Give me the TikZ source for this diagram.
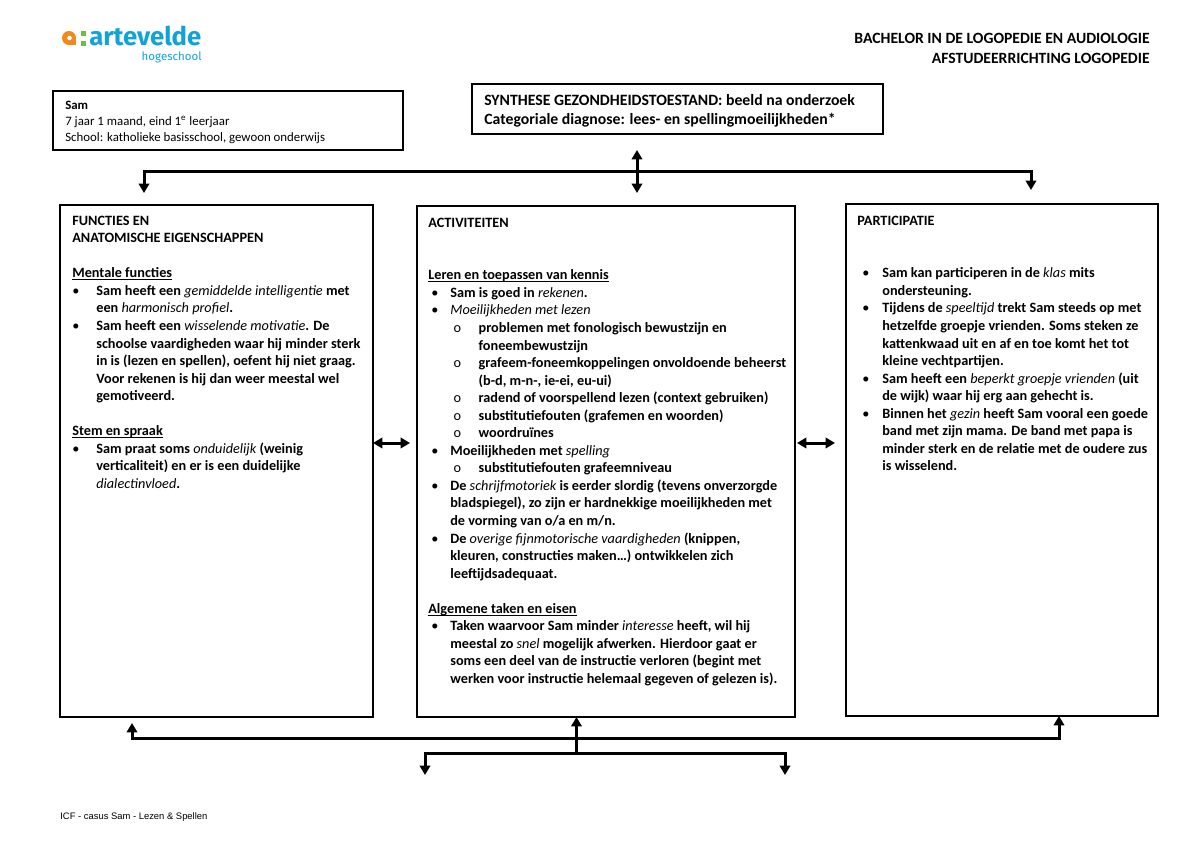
\documentclass[tikz,border=0pt]{standalone}
\usepackage{fontspec}
\setmainfont{Carlito}
\newfontfamily\arialf{Liberation Sans}
\newfontfamily\logof{Fira Sans}
\usetikzlibrary{arrows.meta}
\definecolor{logoblue}{HTML}{0FA3D8}
\definecolor{logoorange}{HTML}{F08A1D}
\definecolor{logogreen}{HTML}{6DBE45}
\newcommand{\ital}[1]{{\normalfont\itshape #1}}
\newcommand{\ulin}[1]{\leavevmode\setbox0=\hbox{#1}\rlap{\rule[-1.3pt]{\wd0}{0.55pt}}\box0\relax}
\newcommand{\dott}{{\normalfont •}}
\newcommand{\bu}{\makebox[14.4pt][l]{\hspace{0pt}\dott}}
\newcommand{\hi}{\hspace*{14.4pt}}
\newcommand{\bua}{\makebox[13.2pt][l]{\hspace{1.8pt}\dott}}
\newcommand{\hia}{\hspace*{13.2pt}}
\newcommand{\subo}{\hspace*{15.2pt}\makebox[15pt][l]{\normalfont o}}
\newcommand{\hib}{\hspace*{30.2pt}}
\newcommand{\bup}{\hspace*{3pt}\makebox[12pt][l]{\dott}}
\newcommand{\hip}{\hspace*{15pt}}
\tikzset{
  x=0.6pt,y=-0.6pt,
  box/.style={draw=black,line width=1.2pt,fill=white,anchor=north west,inner sep=0pt,outer sep=0pt},
  body/.style={anchor=north west,inner sep=0pt,align=left,font=\fontsize{8.55}{10.53}\selectfont\bfseries},
  conn/.style={draw=black,line width=1.8pt},
  tip/.style={-{Triangle[length=5.6pt,width=6.2pt]}},
  tips/.style={{Triangle[length=5.6pt,width=6.2pt]}-{Triangle[length=5.6pt,width=6.2pt]}},
}
\begin{document}
\begin{tikzpicture}
\useasboundingbox (0,0) rectangle (1200,849);
% logo
\fill[logoorange] (69,38) circle[radius=7];
\fill[logoorange] (69,38) rectangle (76,45);
\fill[white] (69.5,38) circle[radius=2.3];
\fill[logogreen] (81,31) rectangle (86,36);
\fill[logogreen] (81,41) rectangle (86,46);
\node[anchor=base west,inner sep=0pt,text=logoblue] (logo) at (89,46) {\logof\bfseries\fontsize{15.4}{18}\selectfont artevelde};
\node[anchor=base east,inner sep=0pt,text=logoblue] (logosub) at (202,61) {\logof\fontsize{6.9}{10}\selectfont hogeschool};
% header
\node[anchor=base east,inner sep=0pt] (head1) at (1150,44) {\fontsize{9.4}{11}\selectfont\bfseries BACHELOR IN DE LOGOPEDIE EN AUDIOLOGIE};
\node[anchor=base east,inner sep=0pt] (head2) at (1150,64) {\fontsize{9.4}{11}\selectfont\bfseries AFSTUDEERRICHTING LOGOPEDIE};
% boxes
\node[box,minimum width=210pt,minimum height=35.4pt] (sam) at (53,91) {};
\node[box,minimum width=246.6pt,minimum height=30pt] (syn) at (472,84) {};
\node[box,minimum width=187.8pt,minimum height=307.2pt] (fun) at (60,205) {};
\node[box,minimum width=226.8pt,minimum height=306.6pt] (act) at (417,206) {};
\node[box,minimum width=187.2pt,minimum height=307.2pt] (par) at (846,204) {};
% box texts
\node[body,font=\fontsize{7.7}{9.6}\selectfont\mdseries] (samt) at (65,100.5) {\textbf{Sam}\\7 jaar 1 maand, eind 1\textsuperscript{e} leerjaar\\School: katholieke basisschool, gewoon onderwijs};
\node[body,font=\fontsize{9.45}{11.4}\selectfont\bfseries] (synt) at (484,94) {SYNTHESE GEZONDHEIDSTOESTAND: beeld na onderzoek\\Categoriale diagnose: lees- en spellingmoeilijkheden*};
\node[body] (funt) at (72,215.5) {FUNCTIES EN\\ANATOMISCHE EIGENSCHAPPEN\\[10.53pt]
\ulin{Mentale functies}\\
\bu Sam heeft een \ital{gemiddelde intelligentie} met\\
\hi een \ital{harmonisch profiel}.\\
\bu Sam heeft een \ital{wisselende motivatie}. De\\
\hi schoolse vaardigheden waar hij minder sterk\\
\hi in is (lezen en spellen), oefent hij niet graag.\\
\hi Voor rekenen is hij dan weer meestal wel\\
\hi gemotiveerd.\\[10.53pt]
\ulin{Stem en spraak}\\
\bu Sam praat soms \ital{onduidelijk} (weinig\\
\hi verticaliteit) en er is een duidelijke\\
\hi \ital{dialectinvloed}.};
\node[body] (actt) at (428,217.5) {ACTIVITEITEN\\[21.06pt]
\ulin{Leren en toepassen van kennis}\\
\bua Sam is goed in \ital{rekenen}.\\
\bua \ital{Moeilijkheden met lezen}\\
\subo problemen met fonologisch bewustzijn en\\
\hib foneembewustzijn\\
\subo grafeem-foneemkoppelingen onvoldoende beheerst\\
\hib (b-d, m-n-, ie-ei, eu-ui)\\
\subo radend of voorspellend lezen (context gebruiken)\\
\subo substitutiefouten (grafemen en woorden)\\
\subo woordruïnes\\
\bua Moeilijkheden met \ital{spelling}\\
\subo substitutiefouten grafeemniveau\\
\bua De \ital{schrijfmotoriek} is eerder slordig (tevens onverzorgde\\
\hia bladspiegel), zo zijn er hardnekkige moeilijkheden met\\
\hia de vorming van o/a en m/n.\\
\bua De \ital{overige fijnmotorische vaardigheden} (knippen,\\
\hia kleuren, constructies maken…) ontwikkelen zich\\
\hia leeftijdsadequaat.\\[10.53pt]
\ulin{Algemene taken en eisen}\\
\bua Taken waarvoor Sam minder \ital{interesse} heeft, wil hij\\
\hia meestal zo \ital{snel} mogelijk afwerken. Hierdoor gaat er\\
\hia soms een deel van de instructie verloren (begint met\\
\hia werken voor instructie helemaal gegeven of gelezen is).};
\node[body] (part) at (857,215.5) {PARTICIPATIE\\[21.06pt]
\bup Sam kan participeren in de \ital{klas} mits\\
\hip ondersteuning.\\
\bup Tijdens de \ital{speeltijd} trekt Sam steeds op met\\
\hip hetzelfde groepje vrienden. Soms steken ze\\
\hip kattenkwaad uit en af en toe komt het tot\\
\hip kleine vechtpartijen.\\
\bup Sam heeft een \ital{beperkt groepje vrienden} (uit\\
\hip de wijk) waar hij erg aan gehecht is.\\
\bup Binnen het \ital{gezin} heeft Sam vooral een goede\\
\hip band met zijn mama. De band met papa is\\
\hip minder sterk en de relatie met de oudere zus\\
\hip is wisselend.};
% footer
\node[anchor=base west,inner sep=0pt] (foot) at (60,819) {\arialf\fontsize{5.65}{7}\selectfont ICF - casus Sam - Lezen \& Spellen};
% connector points
\coordinate (t1) at (637,150);
\coordinate (t2) at (637,193);
\coordinate (hl) at (144,171.5);
\coordinate (hr) at (1031,171.5);
\coordinate (tl) at (144,193);
\coordinate (tr) at (1031,190);
\coordinate (fa1) at (373,443);
\coordinate (fa2) at (410,443);
\coordinate (ap1) at (797,443);
\coordinate (ap2) at (835,443);
\coordinate (bl) at (132,738);
\coordinate (bt) at (132,723);
\coordinate (br) at (1059,738);
\coordinate (bm) at (576.5,738);
\coordinate (lm) at (576.5,753);
\coordinate (l1) at (425,753);
\coordinate (l2) at (785,753);
\coordinate (d1) at (425,775);
\coordinate (d2) at (785,775);
% connectors
\draw[conn,tips] (t1) -- (t2);
\draw[conn,tip] (hl -| t1) -- (hl) -- (tl);
\draw[conn,tip] (hr -| t1) -- (hr) -- (tr);
\draw[conn,tips] (fa1) -- (fa2);
\draw[conn,tips] (ap1) -- (ap2);
\draw[conn,tip] (bl -| lm) -- (bl) -- (bt);
\draw[conn,tip] (br -| lm) -- (br) -- (br |- par.south);
\draw[conn,tip] (lm) -- (bm) -- (bm |- act.south);
\draw[conn,tip] (lm) -- (l1) -- (d1);
\draw[conn,tip] (lm) -- (l2) -- (d2);
\end{tikzpicture}
\end{document}
